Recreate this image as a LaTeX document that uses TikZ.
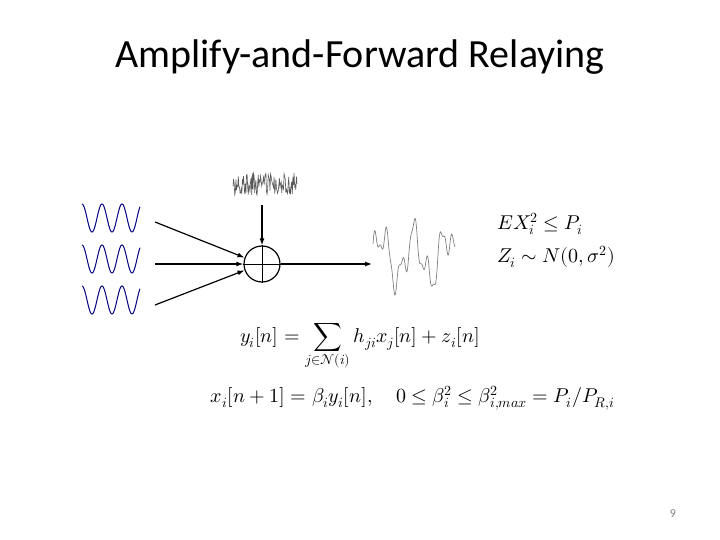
\documentclass[tikz,border=0pt]{standalone}
\usepackage{fontspec}
\setmainfont{Carlito}
\usepackage{amsmath}
\usepackage{unicode-math}
\setmathfont{Latin Modern Math}
\begin{document}
\begin{tikzpicture}[x=1pt,y=-1pt,
  sig/.style={arr, line width=1.3pt},
  arr/.style={-{Latex[length=7pt,width=5pt]}, line width=1.2pt},
  wave/.style={color=blue!50!black, line width=1pt},
  eq/.style={inner sep=0pt, font=\fontsize{20}{24}\selectfont}]
\usetikzlibrary{arrows.meta}
\useasboundingbox (0,0) rectangle (720,540);
\node (title) at (360,57) {\fontsize{40}{44}\selectfont Amplify-and-Forward Relaying};
% input sine waves
\foreach \yc in {218,259,300}
  \draw[wave] plot[domain=0:58, samples=100, smooth] ({82+\x},{\yc-14*cos(\x*18)});
% noise
\pgfmathsetseed{7}
\draw[gray!70!black, line width=0.6pt] plot[domain=0:64, samples=110] ({233+\x},{184+11*rand});
% summing node
\node[draw, circle, line width=1.2pt, minimum size=36pt, inner sep=0pt] (sum) at (262,264) {};
\draw[line width=1pt] (sum.north) -- (sum.south) (sum.west) -- (sum.east);
\coordinate (n0) at (262,205);
\coordinate (i1) at (155,222);
\coordinate (i2) at (155,264);
\coordinate (i3) at (155,305);
\coordinate (o1) at (372,264);
\draw[arr] (n0) -- (sum.north);
\draw[arr] (i1) -- (sum.160);
\draw[sig, line width=2pt] (i2) -- (sum.west);
\draw[arr] (i3) -- (sum.200);
\draw[arr] (sum.east) -- (o1);
% output waveform
\draw[gray, line width=0.7pt] plot[domain=0:82, samples=200, smooth] ({373+\x},{257-22*sin(\x*11)-15*sin(\x*27+60)-5*sin(\x*61)});
% labels
\node[eq, anchor=west] (c1) at (497,224) {$EX_i^2\le P_i$};
\node[eq, anchor=west] (c2) at (497,257) {$Z_i\sim N(0,\sigma^2)$};
\node[eq] (e1) at (360,347) {$y_i[n]=\displaystyle\sum_{j\in\mathcal N(i)} h_{ji}x_j[n]+z_i[n]$};
\node[eq] (e2) at (413,398) {$x_i[n+1]=\beta_i y_i[n],\quad 0\le\beta_i^2\le\beta_{i,max}^2=P_i/P_{R,i}$};
\node[text=gray, font=\fontsize{12}{14}\selectfont] (pg) at (673,514) {9};
\end{tikzpicture}
\end{document}
